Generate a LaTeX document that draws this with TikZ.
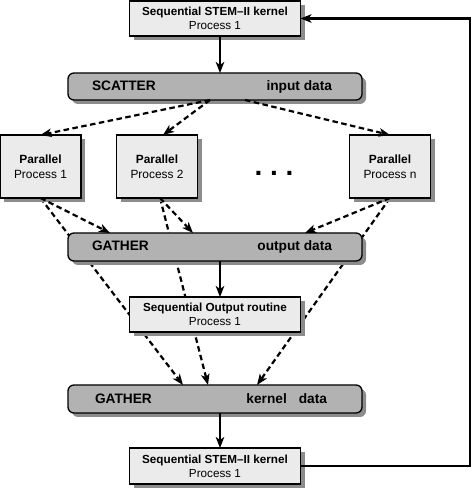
\documentclass[tikz,border=0pt]{standalone}
\usepackage{fontspec}
\setmainfont{Liberation Sans}
\usepackage{tikz}
\usetikzlibrary{arrows.meta,positioning,shadows}
\pgfdeclarelayer{background}
\pgfsetlayers{background,main}

\begin{document}
\begin{tikzpicture}[x=1pt,y=1pt,>={Stealth[length=11pt,width=8.5pt,inset=3pt]},node distance=35pt,
	box shadow/.style={drop shadow={shadow xshift=4pt,shadow yshift=-4pt,fill=black!45,opacity=1}},
	seq node/.style={draw,line width=1.3pt,fill=black!8,inner sep=0pt,outer sep=0pt,minimum width=171pt,minimum height=35pt,align=center,font=\fontsize{11.7}{14}\selectfont,box shadow},
	par node/.style={seq node,minimum width=81pt,minimum height=63pt,font=\fontsize{11.9}{15}\selectfont},
	bar node/.style={draw,line width=1.3pt,rounded corners=6pt,fill=black!30,inner sep=0pt,outer sep=0pt,minimum width=294pt,minimum height=28pt,font=\fontsize{13.7}{16}\selectfont\bfseries,box shadow},
	flow/.style={->,line width=2.4pt},
	spread/.style={->,line width=2.2pt,dash pattern=on 5.5pt off 3.5pt}]
			\useasboundingbox (0,0) rectangle (474,490);
			
			\node[seq node] (kernel1) at (215,471.5) {\textbf{Sequential STEM--II kernel}\\Process 1};
			\node[bar node] (scatter) [below=37pt of kernel1, minimum height=27pt] {\makebox[246pt]{SCATTER\hfill input data\hspace{6pt}}};
			
			\node[par node] (par2) [below=of scatter, xshift=-58pt] {\textbf{Parallel}\\Process 2};
			\node[par node] (par1) [left=35.5pt of par2] {\textbf{Parallel}\\Process 1};
			\node[par node] (parn) [right=152pt of par2] {\textbf{Parallel}\\Process n};
			\node[inner sep=0pt, font=\fontsize{28}{28}\selectfont\bfseries] (dots) at (274,317) {.\ .\ .};
			
			\node[bar node] (gatherout) [below=133pt of scatter] {\makebox[246pt]{GATHER\hfill output data\hspace{6pt}}};
			\node[seq node] (output) [below=36pt of gatherout] {\textbf{Sequential Output routine}\\Process 1};
			\node[bar node] (gatherker) [below=53pt of output] {\makebox[240pt]{GATHER\hfill kernel\hspace{12pt}data\hspace{8pt}}};
			\node[seq node] (kernel2) [below=of gatherker, minimum height=36pt] {\textbf{Sequential STEM--II kernel}\\Process 1};
			
			\path[flow]
			([xshift=5pt]kernel1.south) edge ([xshift=5pt]scatter.north)
			([xshift=5pt]gatherout.south) edge ([xshift=5pt]output.north)
			([xshift=5pt]gatherker.south) edge ([xshift=5pt]kernel2.north);
			\draw[flow] (kernel2.east) -- ++(169.5,0) |- (kernel1.east);
			
			\path[spread]
			([xshift=-5pt]scatter.south) edge (par1.north)
			([xshift=-5pt]scatter.south) edge ([xshift=6pt]par2.north)
			([xshift=30pt]scatter.south) edge (parn.north)
			
			(par1.south) edge ([xshift=-105pt]gatherout.north)
			([xshift=3pt]par2.south) edge ([xshift=-22pt]gatherout.north)
			(parn.south) edge ([xshift=90pt]gatherout.north);
			
			% these run behind the gather bar and the output box
			\begin{pgfonlayer}{background}
			\path[spread]
			(par1.south) edge ([xshift=-32pt]gatherker.north)
			([xshift=3pt]par2.south) edge ([xshift=-7pt]gatherker.north)
			(parn.south) edge ([xshift=42pt]gatherker.north);
			\end{pgfonlayer}
			
\end{tikzpicture}
\end{document}
